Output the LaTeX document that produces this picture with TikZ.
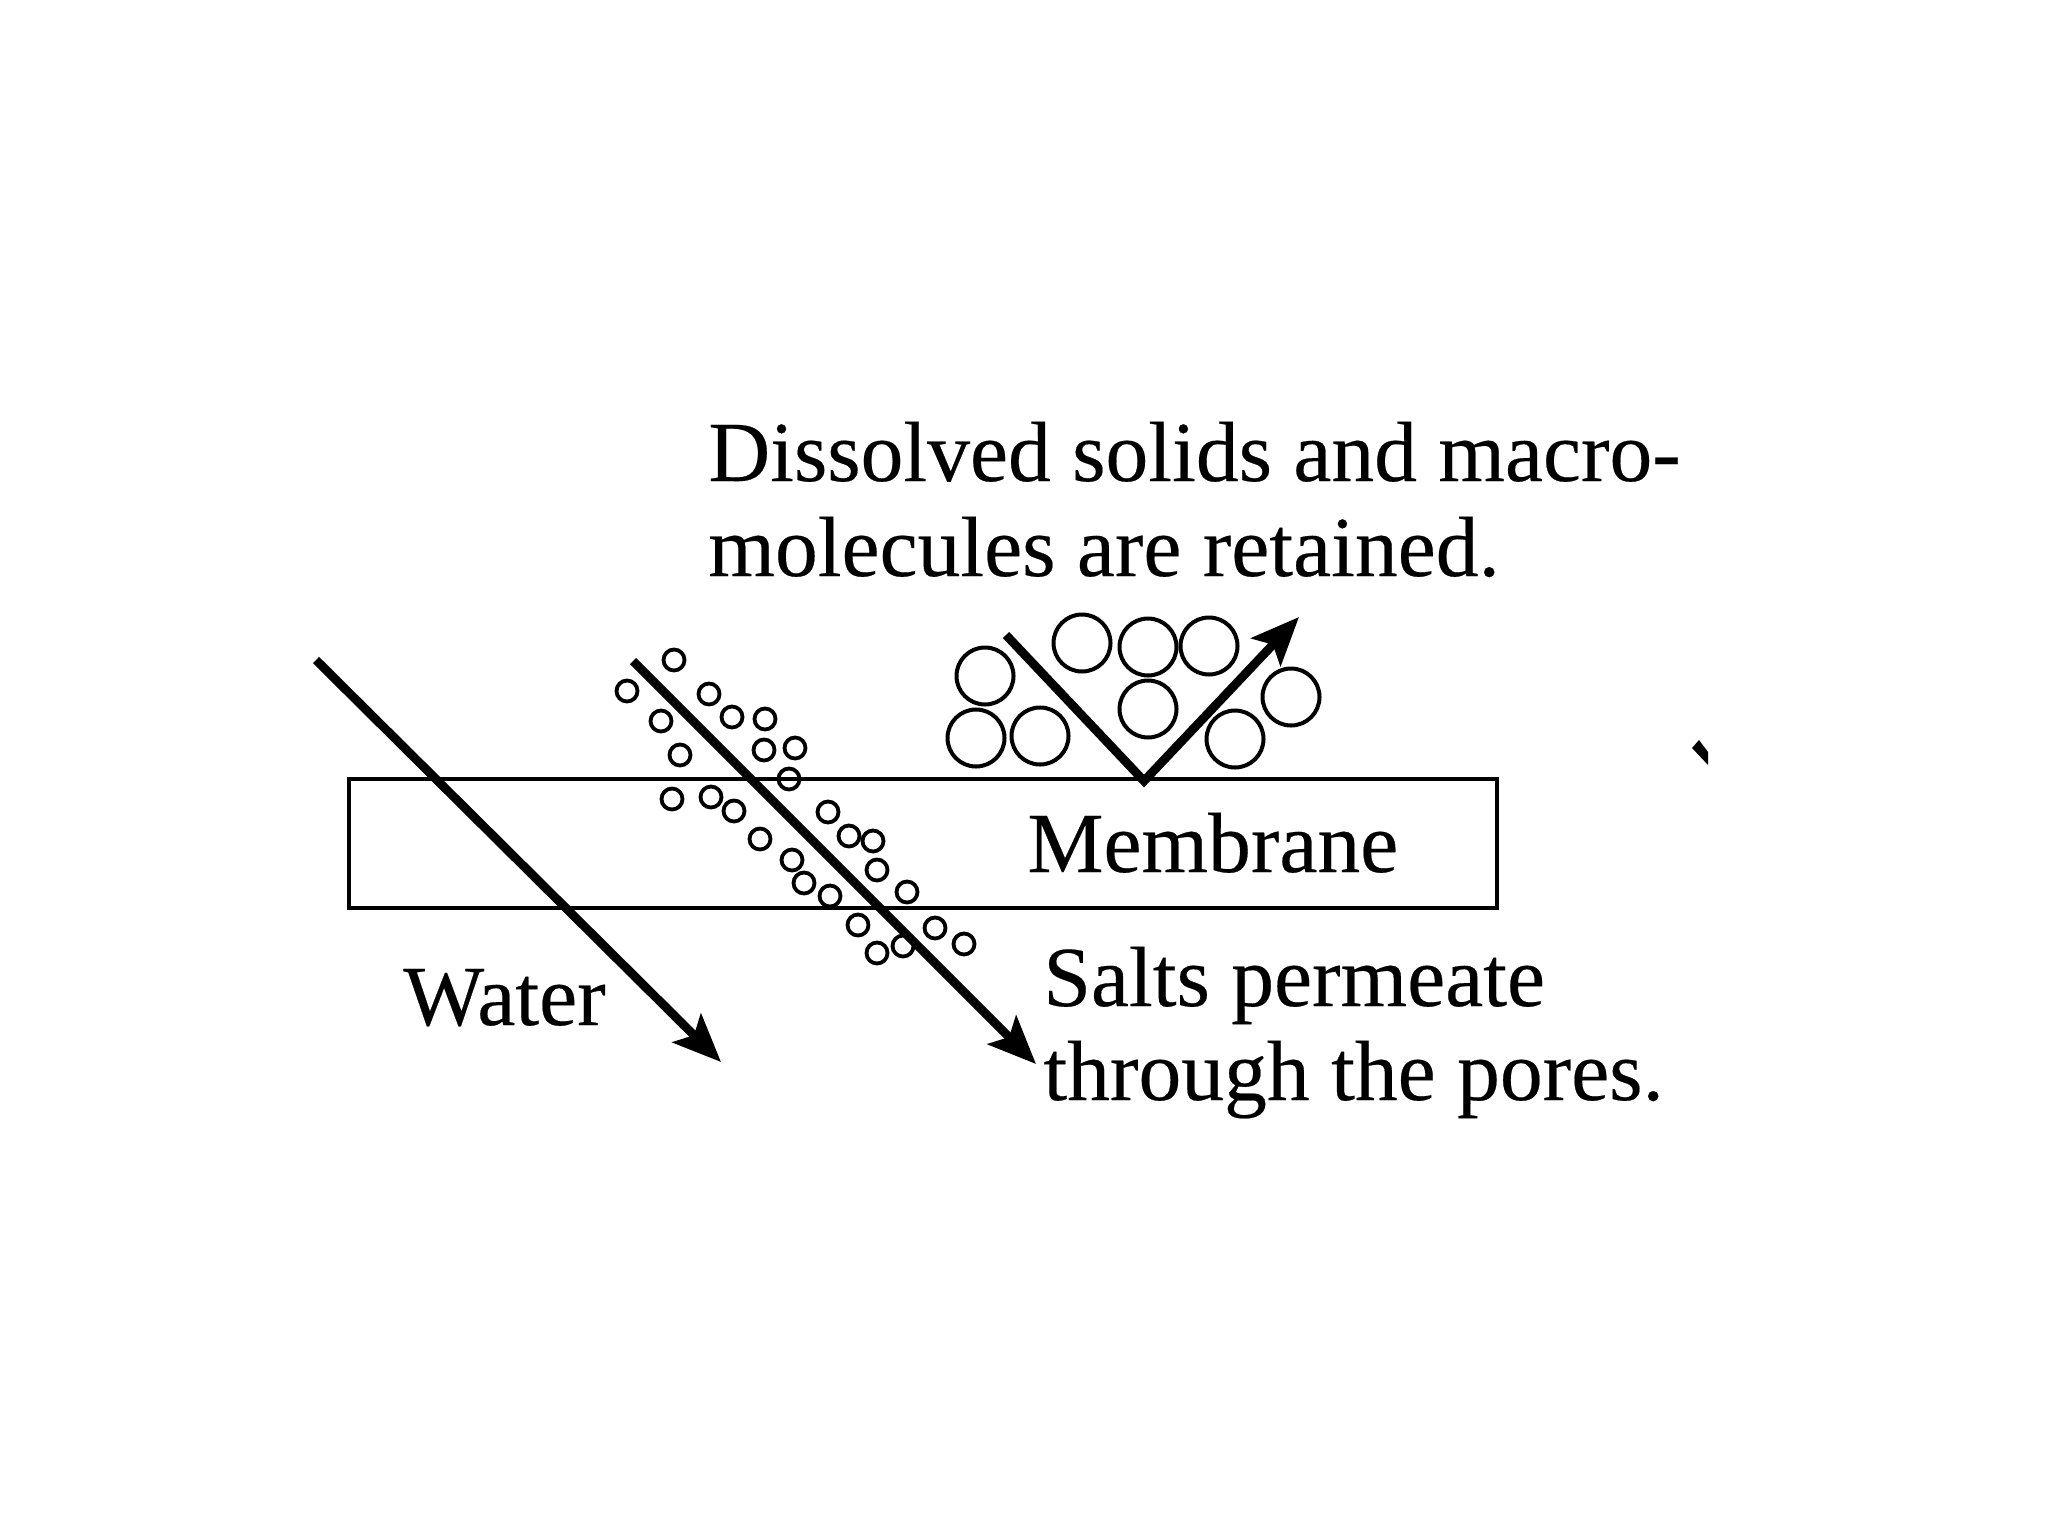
\documentclass[tikz,border=0pt]{standalone}
\usepackage{fontspec}
\setmainfont[FakeBold=0.25]{Liberation Serif}
\usetikzlibrary{arrows.meta}
\tikzset{
  salt/.style={circle,draw,line width=1.9pt,inner sep=0pt,minimum size=10.5pt},
  solid ball/.style={circle,draw,line width=2pt,inner sep=0pt,minimum size=28.5pt},
  flow/.style={line width=4.4pt,-{Stealth[length=24pt,width=20pt,inset=5pt]}},
  label/.style={anchor=base west,inner sep=0pt,font=\fontsize{42.8}{42.8}\selectfont}
}
\begin{document}
\begin{tikzpicture}[x=0.5pt,y=-0.5pt]
      \useasboundingbox (0,0) rectangle (2048,1536);
      \node[draw,line width=2.3pt,minimum width=574pt,minimum height=64.5pt,inner sep=0pt] (membrane) at (923,843.5) {};
      \draw
        (708,481) node[label] (top1){Dissolved solids and macro-}
        (708,576) node[label] (top2){molecules are retained.}
        (1027,872) node[label] (mem){Membrane}
        (403,1025) node[label] (water){Water}
        (1043,1006) node[label] (salts1){Salts permeate}
        (1043,1100) node[label] (salts2){through the pores.};
      \draw
        (674,660) node[salt] (s1){}
        (627,691) node[salt] (s2){}
        (709,694) node[salt] (s3){}
        (732,717) node[salt] (s4){}
        (765,719) node[salt] (s5){}
        (661,721) node[salt] (s6){}
        (680,755) node[salt] (s7){}
        (764,750) node[salt] (s8){}
        (795,748) node[salt] (s9){}
        (789,779) node[salt] (s10){}
        (672,799) node[salt] (s11){}
        (711,797) node[salt] (s12){}
        (734,811) node[salt] (s13){}
        (760,839) node[salt] (s14){}
        (828,812) node[salt] (s15){}
        (849,836) node[salt] (s16){}
        (873,841) node[salt] (s17){}
        (877,870) node[salt] (s18){}
        (792,860) node[salt] (s19){}
        (804,883) node[salt] (s20){}
        (830,896) node[salt] (s21){}
        (907,892) node[salt] (s22){}
        (858,925) node[salt] (s23){}
        (935,928) node[salt] (s24){}
        (964,944) node[salt] (s25){}
        (903,946) node[salt] (s26){}
        (877,953) node[salt] (s27){};
      \draw
        (985,676) node[solid ball] (b1){}
        (976,738) node[solid ball] (b2){}
        (1040,736) node[solid ball] (b3){}
        (1082,643) node[solid ball] (b4){}
        (1148,647) node[solid ball] (b5){}
        (1209,646) node[solid ball] (b6){}
        (1148,709) node[solid ball] (b7){}
        (1291,697) node[solid ball] (b8){}
        (1235,739) node[solid ball] (b9){};
      \coordinate (w0) at (316,660);
      \coordinate (w1) at (721,1062);
      \coordinate (p0) at (633,661);
      \coordinate (p1) at (1036,1064);
      \coordinate (r0) at (1006,635);
      \coordinate (r1) at (1144,781);
      \coordinate (r2) at (1299,617);
      \begin{scope}[flow]
        \draw (w0) to (w1);
        \draw (p0) to (p1);
        \draw[line join=miter] (r0) -- (r1) -- (r2);
      \end{scope}
      \fill (1692,748) -- (1699,740) -- (1708,752) -- (1708,765) -- cycle;
    \end{tikzpicture}
\end{document}
